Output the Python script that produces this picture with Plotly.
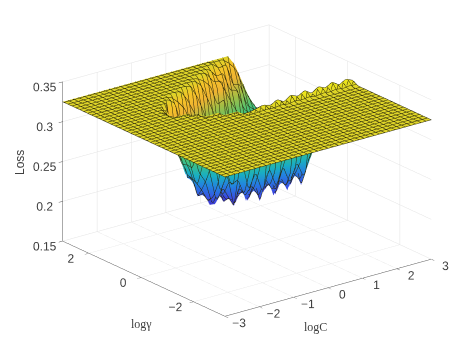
import numpy as np
import plotly.graph_objects as go

LOG_C = [-3.0,-2.8,-2.6,-2.4,-2.2,-2.0,-1.8,-1.6,-1.4,-1.2,-1.0,-0.8,-0.6,-0.4,-0.2,0.0,0.2,0.4,0.6,0.8,1.0,1.2,1.4,1.6,1.8,2.0,2.2,2.4,2.6,2.8,3.0]
LOG_GAMMA = [-3.2,-3.0,-2.8,-2.6,-2.4,-2.2,-2.0,-1.8,-1.6,-1.4,-1.2,-1.0,-0.8,-0.6,-0.4,-0.2,0.0,0.2,0.4,0.6,0.8,1.0,1.2,1.4,1.6,1.8,2.0,2.2,2.4,2.6,2.8,3.0]
PLATEAU = 0.325
P = PLATEAU
# loss for logC = -1.6 ... 3.0 (columns), logγ = -0.4 ... 3.0 (rows)
VALLEY = [
[P,P,P,P,P,P,P,P,P,P,P,P,P,P,P,P,P,P,P,P,P,P,P,P],
[P,P,P,P,P,P,P,P,P,.327,.329,.326,.331,.326,.332,.328,.333,.327,.333,.329,.334,.328,.333,.329],
[P,P,P,P,P,P,P,P,.275,.235,.252,.226,.248,.228,.25,.225,.246,.228,.25,.255,.27,.26,.275,.285],
[P,P,P,P,P,P,.275,.225,.245,.205,.228,.2,.232,.202,.225,.204,.23,.206,.24,.25,.265,.255,.275,.28],
[P,P,P,P,.295,.27,.22,.24,.198,.225,.2,.222,.202,.228,.198,.225,.203,.228,.206,.24,.25,.26,.255,.275],
[P,P,P,.30,.262,.24,.202,.214,.205,.197,.216,.198,.22,.2,.214,.197,.218,.2,.222,.228,.245,.238,.265,.27],
[P,.312,.29,.27,.23,.222,.198,.218,.197,.212,.199,.218,.197,.216,.198,.213,.198,.216,.2,.222,.22,.248,.248,.265],
[P,.318,.27,.262,.24,.208,.21,.197,.212,.197,.214,.198,.212,.196,.213,.199,.214,.198,.21,.206,.228,.226,.254,.26],
[P,P,.285,.262,.235,.23,.203,.216,.198,.21,.196,.212,.198,.21,.197,.21,.198,.212,.2,.212,.212,.236,.236,.255],
[P,P,P,.265,.262,.225,.22,.202,.214,.2,.212,.198,.21,.199,.21,.197,.21,.198,.21,.2,.218,.218,.244,.25],
[P,P,P,P,.318,.285,.25,.235,.21,.208,.197,.21,.198,.21,.199,.21,.197,.208,.199,.21,.208,.228,.23,.246],
[P,P,P,P,P,P,.322,.295,.26,.24,.212,.206,.206,.2,.207,.2,.208,.199,.206,.203,.214,.218,.236,.244],
[P,P,P,P,P,P,P,P,.322,.30,.272,.238,.224,.204,.203,.208,.2,.206,.2,.207,.214,.222,.232,.244],
[P,P,P,P,P,P,P,P,P,P,.318,.298,.276,.24,.226,.206,.204,.206,.204,.21,.216,.225,.235,.246],
[P,P,P,P,P,P,P,P,P,P,P,P,.32,.298,.308,.266,.262,.228,.224,.212,.224,.23,.24,.25],
[P,P,P,P,P,P,P,P,P,P,P,P,P,.322,.308,.312,.28,.286,.252,.25,.232,.24,.245,.25],
[P,P,P,P,P,P,P,P,P,P,P,P,P,P,P,.318,.32,.292,.29,.262,.254,.246,.25,.25],
[P,P,P,P,P,P,P,P,P,P,P,P,P,P,P,P,P,P,.312,.29,.268,.252,.245,.245],
]
C_TICKS = [-3,-2,-1,0,1,2,3]
GAMMA_TICKS = [-2,0,2]
Z_TICKS = [0.15,0.2,0.25,0.3,0.35]

z = np.full((len(LOG_GAMMA), len(LOG_C)), PLATEAU)
v = np.array(VALLEY)
z[len(LOG_GAMMA)-v.shape[0]:, len(LOG_C)-v.shape[1]:] = v

CMIN, CMAX = 0.195, 0.335
def s(val): return (val-CMIN)/(CMAX-CMIN)
scale = [[0,'rgb(55,45,190)'],[s(.205),'rgb(60,70,225)'],[s(.225),'rgb(35,130,225)'],[s(.24),'rgb(25,175,195)'],
         [s(.258),'rgb(70,195,120)'],[s(.28),'rgb(160,190,70)'],[s(.30),'rgb(240,180,50)'],[s(.315),'rgb(245,195,40)'],[s(.325),'rgb(222,212,40)'],[1,'rgb(245,240,20)']]

MESH = 'rgb(40,38,10)'
fig = go.Figure(go.Surface(
    x=LOG_C, y=LOG_GAMMA, z=z, cmin=CMIN, cmax=CMAX, colorscale=scale, showscale=False,
    lighting=dict(ambient=1, diffuse=0, specular=0, roughness=1, fresnel=0),
    contours=dict(
        x=dict(show=True, start=-3, end=3, size=0.15, color=MESH, width=1),
        y=dict(show=True, start=-3.2, end=3, size=0.15, color=MESH, width=1),
        z=dict(show=False)),
))
ax = dict(showbackground=False, gridcolor='#e3e3e3', gridwidth=1, showline=True, linecolor='#555555', linewidth=1,
          zeroline=False, ticks='outside', ticklen=5, tickcolor='#555555', tickangle=0,
          tickfont=dict(family='Liberation Sans', size=12, color='#404040'), showspikes=False, title=dict(text=''))
k = 2.0
A = 1.53
TITLE = dict(showarrow=False, xref='paper', yref='paper', xanchor='center', yanchor='middle')
fig.update_layout(
    width=474, height=355, margin=dict(l=0,r=0,t=0,b=0), paper_bgcolor='white', showlegend=False,
    scene=dict(
        domain=dict(x=[0.0,1], y=[0.04,1]),
        aspectmode='manual', aspectratio=dict(x=1*A,y=1.017*A,z=0.654*A),
        camera=dict(eye=dict(x=-0.571*k-0.0093,y=-0.739*k+0.0072,z=0.358*k-0.05), center=dict(x=-0.0093,y=0.0072,z=-0.05), up=dict(x=0,y=0,z=1),
                    projection=dict(type='orthographic')),
        xaxis=dict(ax, range=[-3,3], tickvals=C_TICKS),
        yaxis=dict(ax, range=[-3.2,3], tickvals=GAMMA_TICKS),
        zaxis=dict(ax, range=[0.15,0.35], tickvals=Z_TICKS, ticktext=['0.15','0.2','0.25','0.3','0.35']),
    ),
    annotations=[
        dict(TITLE, x=307/474, y=1-319/355, text='logC', font=dict(family='Liberation Serif', size=12, color='#404040')),
        dict(TITLE, x=133/474, y=1-316/355, text='logγ', font=dict(family='Liberation Serif', size=12, color='#404040')),
        dict(TITLE, x=12/474, y=1-155/355, text='Loss', textangle=-90, font=dict(family='Liberation Sans', size=12, color='#404040')),
    ],
)
fig.write_html("out.html")
